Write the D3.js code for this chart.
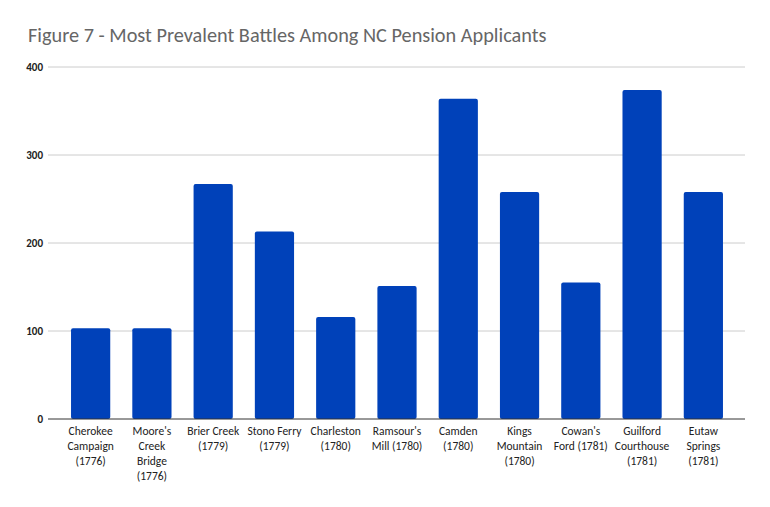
<!DOCTYPE html>
<html><head><meta charset="utf-8">
<script src="https://cdn.jsdelivr.net/npm/d3@7"></script>
<style>body{margin:0;background:#fff;} svg{display:block;}</style>
</head><body>
<svg id="c" width="770" height="507"></svg>
<script>
const categories = [
  ["Cherokee","Campaign","(1776)"],
  ["Moore's","Creek","Bridge","(1776)"],
  ["Brier Creek","(1779)"],
  ["Stono Ferry","(1779)"],
  ["Charleston","(1780)"],
  ["Ramsour's","Mill (1780)"],
  ["Camden","(1780)"],
  ["Kings","Mountain","(1780)"],
  ["Cowan's","Ford (1781)"],
  ["Guilford","Courthouse","(1781)"],
  ["Eutaw","Springs","(1781)"]
];
const values = [103, 103, 267, 213, 116, 151, 364, 258, 155, 374, 258];
const yTicks = [0, 100, 200, 300, 400];
const title = "Figure 7 - Most Prevalent Battles Among NC Pension Applicants";

const svg = d3.select("#c");
const font = "Calibri, Carlito, 'Open Sans', sans-serif";
const x = d3.scaleBand().domain(d3.range(categories.length)).range([60, 734]).paddingInner(0.36).paddingOuter(0.18);
const y = d3.scaleLinear().domain([0, 400]).range([419, 67]);

svg.append("text").attr("x", 28).attr("y", 42).text(title)
  .attr("font-family", font).attr("font-size", 20.3).attr("fill", "#666");

// gridlines
svg.append("g").selectAll("line").data(yTicks.filter(d => d > 0)).join("line")
  .attr("x1", 48).attr("x2", 745).attr("y1", d => y(d)).attr("y2", d => y(d))
  .attr("stroke", "#cccccc").attr("stroke-width", 1);

// y labels
svg.append("g").selectAll("text").data(yTicks).join("text")
  .attr("x", 43).attr("y", d => y(d) + 4).attr("text-anchor", "end")
  .attr("font-family", font).attr("font-size", 11).attr("font-weight", "bold").attr("fill", "#222")
  .text(d => d);

// bars
svg.append("g").selectAll("rect").data(values).join("rect")
  .attr("x", (d, i) => x(i)).attr("width", x.bandwidth())
  .attr("y", d => y(d)).attr("height", d => y(0) - y(d))
  .attr("rx", 2).attr("fill", "#0041b9");

// baseline
svg.append("line").attr("x1", 48).attr("x2", 745).attr("y1", y(0)).attr("y2", y(0))
  .attr("stroke", "#333").attr("stroke-width", 1);

// x labels
const xl = svg.append("g").selectAll("text").data(categories).join("text")
  .attr("x", (d, i) => x(i) + x.bandwidth() / 2).attr("y", 435)
  .attr("text-anchor", "middle").attr("font-family", font).attr("font-size", 11.5).attr("fill", "#222");
xl.selectAll("tspan").data(d => d).join("tspan")
  .attr("x", function() { return d3.select(this.parentNode).attr("x"); })
  .attr("dy", (d, i) => i === 0 ? 0 : 15).text(d => d);
</script>
</body></html>
